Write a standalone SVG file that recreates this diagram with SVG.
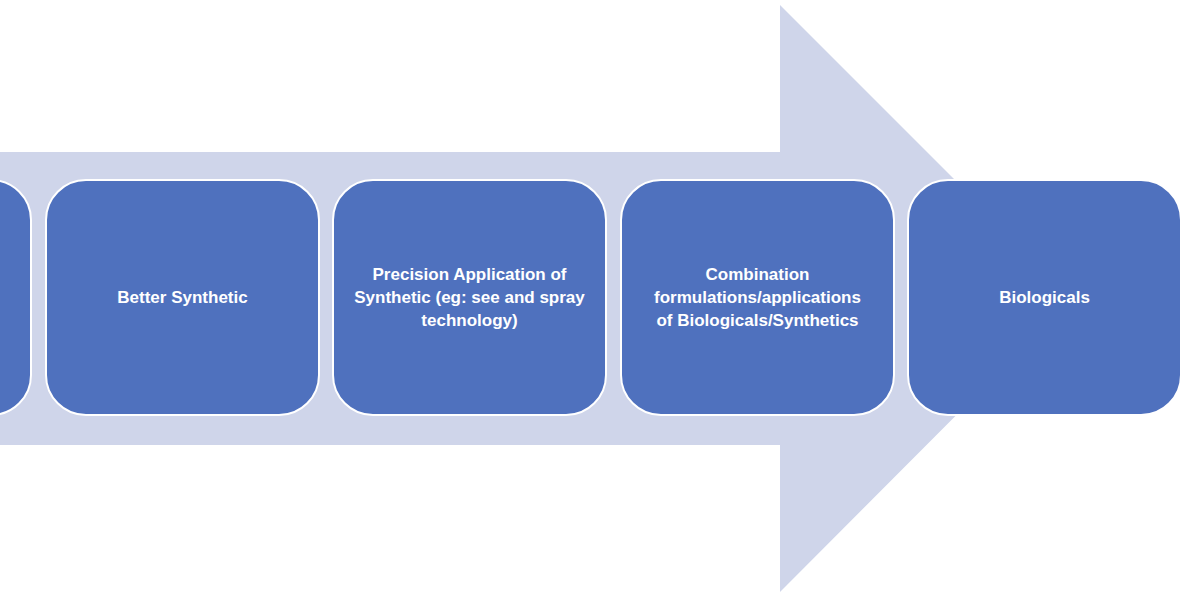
<svg xmlns="http://www.w3.org/2000/svg" width="1200" height="600" viewBox="0 0 1200 600">
<style>
.box{fill:#4F71BE;stroke:#fff;stroke-width:2}
.t{fill:#fff;font-family:"Liberation Sans",Arial,sans-serif;font-weight:bold;font-size:17px;text-anchor:middle}
</style>
<rect width="1200" height="600" fill="#fff"/>
<g id="connectors">
<polygon points="0,152 780,152 780,5 1073,298 780,592 780,445 0,445" fill="#CFD5EA"/>
</g>
<g id="n1"><rect class="box" x="-242" y="180" width="273" height="235" rx="40"/></g>
<g id="n2"><rect class="box" x="46" y="180" width="273" height="235" rx="40"/><text class="t" x="182.5" y="303">Better Synthetic</text></g>
<g id="n3"><rect class="box" x="333" y="180" width="273" height="235" rx="40"/><text class="t" x="469.5" y="280">Precision Application of<tspan x="469.5" dy="23">Synthetic (eg: see and spray</tspan><tspan x="469.5" dy="23">technology)</tspan></text></g>
<g id="n4"><rect class="box" x="621" y="180" width="273" height="235" rx="40"/><text class="t" x="757.5" y="280">Combination<tspan x="757.5" dy="23">formulations/applications</tspan><tspan x="757.5" dy="23">of Biologicals/Synthetics</tspan></text></g>
<g id="n5"><rect class="box" x="908" y="180" width="273" height="235" rx="40"/><text class="t" x="1044.5" y="303">Biologicals</text></g>
</svg>
